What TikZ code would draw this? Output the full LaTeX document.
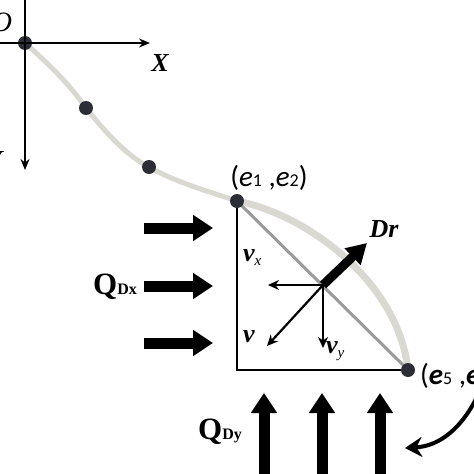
\documentclass[tikz,border=0pt]{standalone}
\usepackage{fontspec}
\setmainfont{Liberation Serif}
\newfontfamily\efont{Carlito}
\usetikzlibrary{arrows.meta,positioning,backgrounds}
\definecolor{punto}{HTML}{2B2E36}
\definecolor{curva}{HTML}{D9D9D2}
\definecolor{hipo}{HTML}{9A9A9A}

\begin{document}
\begin{tikzpicture}[x=1pt,y=-1pt,
  dot/.style={circle,fill=punto,inner sep=0pt,minimum size=14pt},
  eje/.style={line width=1.8pt,-{Stealth[length=11pt,width=9pt]}},
  vec/.style={line width=2.2pt,-{Stealth[length=11pt,width=10pt]}},
  flujo/.style={line width=11pt,-{Triangle[length=20pt,width=25pt]}},
  etq/.style={font=\fontsize{26}{26}\selectfont\bfseries\itshape,inner sep=0pt}]
\useasboundingbox (0,0) rectangle (474,474);
\clip (0,0) rectangle (474,474);
%
% puntos de la curva
\node[dot] (O) at (25,43) {};
\node[dot] (p1) at (86,108) {};
\node[dot] (p2) at (149,167) {};
\node[dot] (A) at (237,201) {};
\node[dot] (B) at (408,370) {};
\coordinate (C) at (323,285);
\coordinate (R) at (237,370);
%
% ejes
\coordinate (xini) at (-5,43);
\coordinate (xfin) at (150,43);
\coordinate (yini) at (25,-5);
\coordinate (yfin) at (25,170);
\draw[eje] (xini) -- (xfin);
\draw[eje] (yini) -- (yfin);
\node[font=\fontsize{28}{28}\selectfont\itshape,inner sep=0pt] (lO) at (2,22) {O};
\node[etq] (lX) at (160,63) {X};
\node[etq] (lY) at (-6,160) {Y};
%
\begin{scope}[on background layer]
\draw[curva,line width=5pt] (O.center) .. controls (50,65) and (70,85) .. (p1.center)
  .. controls (102,128) and (125,155) .. (p2.center)
  .. controls (175,182) and (210,192) .. (A.center);
\draw[curva,line width=7pt] (A.center) .. controls (305,214) and (398,280) .. (B.center);
\draw[hipo,line width=3pt] (A.center) -- (B.center);
\draw[line width=1.8pt] (A.center) -- (R) -- (B.center);
\end{scope}
%
% vectores
\coordinate (Dr) at (367,243);
\coordinate (vx) at (268,285);
\coordinate (vy) at (323,348);
\coordinate (v) at (267,346);
\draw[line width=9pt,-{Triangle[length=20pt,width=22pt]}] (C) -- (Dr);
\draw[vec] (C) -- (vx);
\draw[vec] (C) -- (vy);
\draw[vec] (C) -- (v);
\node[etq] (lDr) at (384,229) {Dr};
\node[etq,anchor=west] (lvx) at (243,258) {v\raisebox{-4pt}{\normalfont\itshape\fontsize{15}{15}\selectfont x}};
\node[etq] (lv) at (249,337) {v};
\node[etq,anchor=west] (lvy) at (326,351) {v\raisebox{-4pt}{\normalfont\itshape\fontsize{15}{15}\selectfont y}};
\node[font=\efont\fontsize{29}{29}\selectfont,inner sep=0pt] (le12) at (269,178)
  {(\textit{e}{\fontsize{18}{18}\selectfont 1} ,\textit{e}{\fontsize{18}{18}\selectfont 2})};
\node[font=\efont\fontsize{29}{29}\selectfont,inner sep=0pt,anchor=west] (le56) at (420,376)
  {(\textbf{\textit{e}}{\fontsize{18}{18}\selectfont 5} ,\textbf{\textit{e}}{\fontsize{18}{18}\selectfont 6})};
%
% flujos
\foreach \y in {228,286,343}
\draw[flujo] (144,\y) -- (213,\y);
\foreach \x in {264,322,380}
\draw[flujo] (\x,478) -- (\x,393);
\node[inner sep=0pt] (QDx) at (115,287) {\fontsize{31}{31}\selectfont\bfseries Q\fontsize{16}{16}\selectfont Dx};
\node[inner sep=0pt] (QDy) at (220,432) {\fontsize{31}{31}\selectfont\bfseries Q\fontsize{16}{16}\selectfont Dy};
%
\coordinate (cini) at (478,395);
\coordinate (cfin) at (405,448);
\draw[line width=4pt,-{Stealth[length=17pt,width=20pt]}] (cini) .. controls (462,428) and (440,446) .. (cfin);
\end{tikzpicture}
\end{document}
